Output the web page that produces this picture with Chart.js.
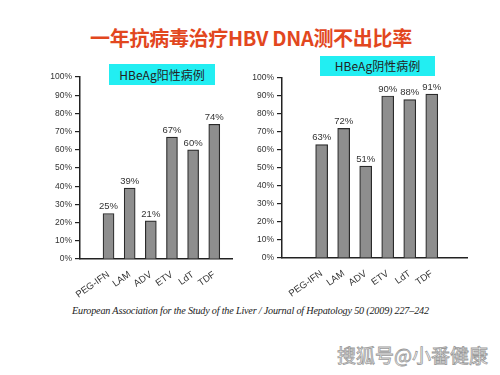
<!DOCTYPE html>
<html>
<head>
<meta charset="utf-8">
<script src="https://cdn.jsdelivr.net/npm/chart.js@4/dist/chart.umd.min.js"></script>
<style>
    body { margin: 0; background: #fff; }
    #page { position: relative; width: 500px; height: 375px; overflow: hidden; background: #fff; }
    .title {
        position: absolute; left: 0; width: 502px; top: 23px; text-align: center;
        font: bold 20px "Noto Sans CJK SC", sans-serif; color: #e2471e; letter-spacing: -0.3px;
    }
    .box {
        position: absolute; background: #22eef2; color: #222; text-align: center;
        font: 12px "Noto Sans CJK SC", sans-serif; line-height: 21px; z-index: 2;
    }
    .chart { position: absolute; }
    .cite {
        position: absolute; left: 72px; top: 305px; white-space: nowrap;
        font: italic 10.2px "Liberation Serif", serif; color: #222; letter-spacing: -0.2px;
    }
    .mark {
        position: absolute; left: 337px; top: 341px; white-space: nowrap;
        font: 19px "Noto Sans CJK SC", sans-serif; color: #fff;
        -webkit-text-stroke: 0.8px #9a9a9a;
    }
</style>
</head>
<body>
<div id="page">
    <div class="title">一年抗病毒治疗HBV DNA测不出比率</div>
    <div class="box" style="left:109px; top:64px; width:106px; height:21px;">HBeAg阳性病例</div>
    <div class="box" style="left:320px; top:56px; width:115px; height:20px; line-height:20px;">HBeAg阴性病例</div>
    <div class="chart" style="left:40px; top:60px; width:200px; height:245px;"><canvas id="posChart"></canvas></div>
    <div class="chart" style="left:240px; top:55px; width:240px; height:250px;"><canvas id="negChart"></canvas></div>
    <div class="cite">European Association for the Study of the Liver / Journal of Hepatology 50 (2009) 227–242</div>
    <div class="mark">搜狐号@小番健康</div>
</div>
<script>
// Data
const drugs = ['PEG-IFN', 'LAM', 'ADV', 'ETV', 'LdT', 'TDF'];
const positiveRates = [25, 39, 21, 67, 60, 74];   // HBeAg阳性
const negativeRates = [63, 72, 51, 90, 88, 91];   // HBeAg阴性
const yTicks = [0, 10, 20, 30, 40, 50, 60, 70, 80, 90, 100];

// value labels above bars
const barLabels = {
    id: 'barLabels',
    afterDatasetsDraw(chart) {
        const ctx = chart.ctx;
        const meta = chart.getDatasetMeta(0);
        ctx.save();
        ctx.font = '9.5px "Liberation Sans", Arial, sans-serif';
        ctx.fillStyle = '#333';
        ctx.textAlign = 'center';
        ctx.textBaseline = 'bottom';
        meta.data.forEach((bar, i) => {
            ctx.fillText(chart.data.datasets[0].data[i].y + '%', bar.x, bar.y - 2);
        });
        ctx.restore();
    }
};

function makeChart(id, values, cfg) {
    const points = values.map((v, i) => ({ x: i, y: v }));
    return new Chart(document.getElementById(id), {
        type: 'bar',
        data: {
            datasets: [{
                data: points,
                backgroundColor: '#8e8e8e',
                borderColor: '#2a2a2a',
                borderWidth: 1.2,
                borderSkipped: 'bottom',
                barThickness: cfg.barWidth
            }]
        },
        options: {
            responsive: true,
            maintainAspectRatio: false,
            animation: false,
            layout: { padding: { top: cfg.padTop, right: cfg.padRight, left: 0, bottom: 0 } },
            plugins: { legend: { display: false }, tooltip: { enabled: false } },
            scales: {
                x: {
                    type: 'linear',
                    min: cfg.xMin,
                    max: cfg.xMax,
                    afterBuildTicks: s => { s.ticks = drugs.map((d, i) => ({ value: i })); },
                    afterFit: s => { s.height = cfg.xHeight; },
                    grid: { display: false },
                    border: { display: true, color: '#222', width: 1.5 },
                    ticks: {
                        autoSkip: false,
                        minRotation: 35,
                        maxRotation: 35,
                        padding: 2,
                        color: '#333',
                        font: { size: 9.5, family: '"Liberation Sans", Arial, sans-serif' },
                        callback: v => drugs[v]
                    }
                },
                y: {
                    min: 0,
                    max: 100,
                    afterBuildTicks: s => { s.ticks = yTicks.map(v => ({ value: v })); },
                    afterFit: s => { s.width = cfg.yWidth; },
                    grid: { drawOnChartArea: false, drawTicks: true, tickLength: 5, color: '#222', lineWidth: 1.2 },
                    border: { display: true, color: '#222', width: 1.5 },
                    ticks: {
                        padding: 3,
                        color: '#333',
                        font: { size: 8.5, family: '"Liberation Sans", Arial, sans-serif' },
                        callback: v => v + '%'
                    }
                }
            }
        },
        plugins: [barLabels]
    });
}

makeChart('posChart', positiveRates, {
    xMin: -0.75, xMax: 5.24, barWidth: 11,
    padTop: 17, padRight: 8, xHeight: 46, yWidth: 40
});
makeChart('negChart', negativeRates, {
    xMin: -1.1, xMax: 5.9, barWidth: 12,
    padTop: 23, padRight: 13, xHeight: 47, yWidth: 42
});
</script>
</body>
</html>
